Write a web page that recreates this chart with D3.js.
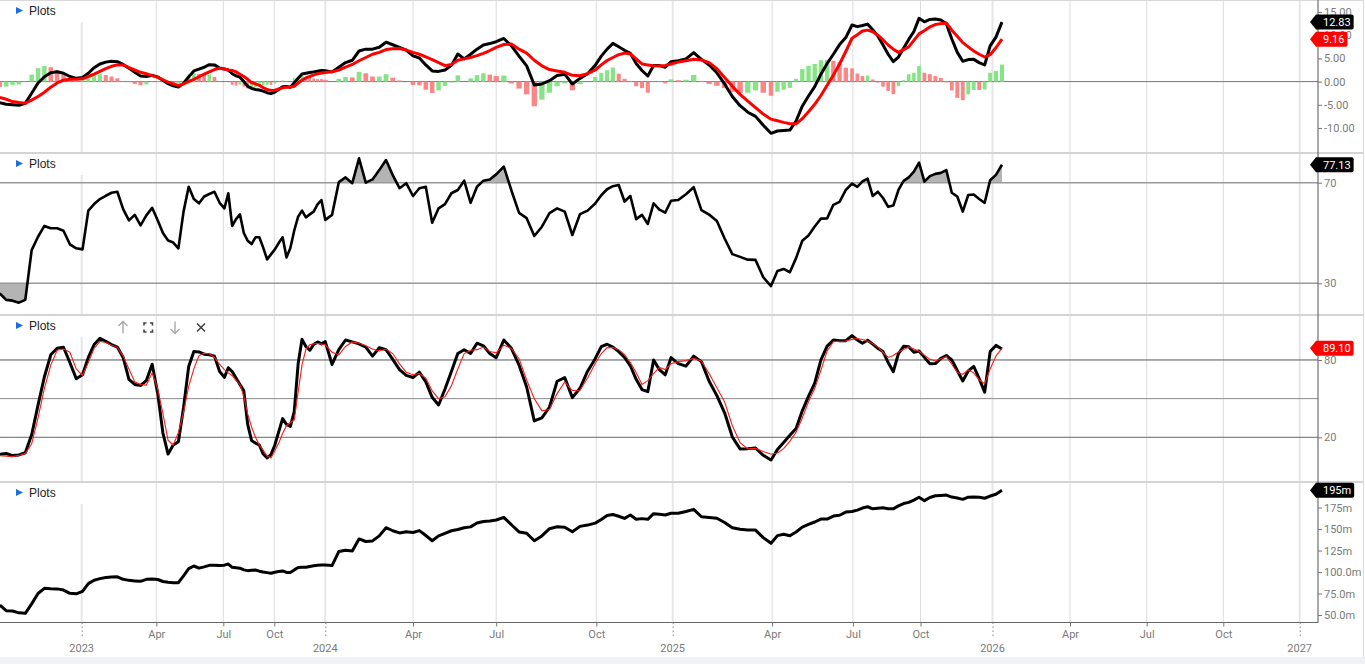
<!DOCTYPE html>
<html>
<head>
<meta charset="utf-8">
<script src="https://cdn.jsdelivr.net/npm/d3@7"></script>
<style>
  html, body { margin: 0; padding: 0; background: #fff; }
  svg { display: block; font-family: Roboto, "Liberation Sans", Arial, sans-serif; }
</style>
</head>
<body>
<svg id="chart" width="1365" height="664"></svg>
<script>
/******** DATOS (semanal, lunes, oct 2022 - ene 2026) ********/
semanas = d3.timeMonday.range(new Date(2022, 9, 3), new Date(2026, 0, 13))

macd = [-4.54,-4.88,-5.0,-5.1,-4.7,-2.5,-0.3,1.05,1.9,2.14,1.8,1.1,0.7,
  0.9,1.8,3.0,3.8,4.2,4.4,4.3,3.7,2.9,2.0,1.2,1.08,1.35,
  1.0,0.3,-0.45,-0.9,-1.15,-0.4,1.05,2.3,2.7,3.1,3.65,3.6,2.95,
  2.7,2.5,1.7,1.25,0.95,0.0,-1.0,-1.45,-1.7,-1.8,-2.05,-2.4,-2.6,
  -2.25,-1.7,-1.1,-1.05,-1.2,-0.25,0.7,1.64,1.8,1.95,2.1,2.25,2.4,
  2.35,2.1,3.1,4.1,4.6,6.6,7.0,7.0,7.4,8.5,7.95,7.4,6.8,
  5.55,5.1,3.6,2.3,2.2,2.5,3.5,5.95,4.9,5.9,7.0,7.9,8.2,
  8.6,9.3,7.7,5.5,3.4,-0.73,-0.5,0.2,1.3,1.6,-0.52,0.7,1.7,
  3.5,5.5,7.0,8.25,7.5,6.75,6.1,3.9,2.4,1.21,3.45,3.45,3.1,
  4.29,4.5,4.9,6.24,4.8,3.6,1.9,-0.5,-3.2,-5.2,-6.6,-7.5,-9.4,
  -11.15,-10.65,-10.55,-10.45,-8.5,-5.3,-3.1,-1.1,1.6,3.9,5.9,7.98,9.5,
  12.2,11.85,12.1,12.4,11.2,9.8,7.9,5.9,4.29,5.3,7.2,9.1,10.8,
  13.64,12.9,13.4,13.5,13.3,12.5,9.2,6.3,4.4,4.75,4.8,4.1,3.58,
  7.7,9.6,12.83]

senal = [-3.39,-3.8,-4.3,-4.5,-4.65,-4.0,-3.2,-2.3,-1.2,-0.3,0.3,0.49,0.49,
  0.6,1.1,1.6,2.2,2.8,3.3,3.6,3.6,3.0,2.5,2.0,1.7,1.3,
  0.9,0.4,-0.1,-0.5,-0.85,-0.5,0.0,0.5,1.05,1.6,2.1,2.6,2.85,
  2.7,2.5,2.4,2.1,1.6,1.1,0.5,-0.2,-0.5,-0.8,-1.3,-1.7,-1.9,
  -1.85,-1.6,-1.35,-1.2,-1.15,-1.0,-0.3,0.3,0.8,1.1,1.45,1.7,1.85,
  1.95,2.1,2.5,3.1,3.7,4.5,5.2,5.9,6.3,6.9,7.1,7.15,6.8,
  6.3,5.9,5.35,4.75,4.1,3.45,3.7,4.6,4.9,5.2,5.6,6.1,6.7,
  7.4,8.0,8.1,7.0,6.15,4.6,3.4,2.6,2.3,2.0,1.35,1.25,1.7,
  2.5,3.6,4.55,5.2,5.8,6.15,5.95,4.9,3.8,3.6,3.4,3.38,3.5,
  3.8,4.2,4.5,4.8,4.65,4.1,2.8,0.9,-1.0,-2.75,-4.2,-5.6,-7.0,
  -8.1,-8.45,-8.8,-9.1,-9.1,-8.0,-6.5,-4.9,-3.0,-0.8,1.4,3.8,6.5,
  9.35,10.1,10.9,11.1,10.75,10.0,9.0,7.9,7.0,6.3,6.9,7.5,8.9,
  10.3,11.0,11.8,12.3,12.5,12.65,11.1,9.8,8.4,7.5,6.6,5.9,5.3,
  5.8,7.3,9.16]

rsi = [26.0,23.4,23.1,22.3,23.4,43.2,48.5,52.8,51.9,51.9,50.9,45.5,43.9,
  43.5,58.9,61.5,63.5,64.8,66.0,66.4,59.5,55.0,57.2,53.0,57.0,60.0,
  55.0,50.0,47.0,46.2,43.9,58.5,68.4,63.5,61.8,64.5,65.5,66.4,62.0,
  59.8,65.8,52.8,55.5,57.4,50.0,46.9,45.6,48.3,48.3,44.2,39.5,41.5,
  43.5,46.0,48.3,40.3,44.0,51.0,56.5,58.9,56.2,57.4,58.5,61.4,63.1,
  55.2,57.2,70.2,72.1,69.8,79.7,70.0,71.3,75.0,79.0,73.0,67.8,69.8,
  64.7,67.8,68.4,54.1,59.8,61.5,65.8,67.1,70.8,62.0,68.4,70.8,71.3,
  73.3,76.4,66.9,58.0,55.9,48.8,52.5,57.9,59.8,58.5,49.2,57.5,58.9,
  61.7,65.0,67.4,68.6,69.1,62.5,64.7,55.5,57.2,53.6,61.8,59.3,58.1,
  62.8,63.1,65.4,68.2,59.1,57.3,54.8,47.8,41.6,40.5,39.4,39.3,32.4,
  28.9,34.9,35.7,34.4,40.0,46.9,49.0,52.6,55.7,55.8,61.2,62.4,67.1,
  69.6,68.3,70.5,71.6,64.7,66.4,63.9,60.4,60.9,67.1,70.7,72.1,74.4,
  78.0,70.4,72.6,73.5,73.9,75.0,66.0,64.5,58.5,65.1,65.3,63.5,62.0,
  71.0,73.1,77.13]

stochK = [6.8,7.4,5.8,6.3,8.0,22.0,45.0,67.0,84.0,89.1,89.9,78.0,65.5,
  68.5,82.0,92.0,96.8,94.5,92.0,90.0,82.0,65.0,61.0,60.2,64.0,76.7,
  53.7,23.3,7.0,14.0,16.6,43.0,75.0,86.5,86.2,84.5,84.0,83.0,71.0,
  66.5,74.0,71.0,66.0,61.0,56.0,30.0,17.5,15.5,14.0,7.0,4.0,6.5,
  14.0,24.4,34.5,30.0,28.5,40.0,77.0,96.0,90.5,87.5,92.0,94.0,92.5,
  94.2,76.5,88.0,95.5,94.0,92.5,90.0,83.0,89.5,88.0,80.5,72.5,68.0,
  66.4,70.5,63.0,51.0,45.1,57.5,71.0,85.0,88.0,85.0,93.0,91.0,85.0,
  81.8,95.5,89.0,76.0,59.0,32.7,35.0,43.5,63.5,66.3,50.8,58.0,71.3,
  81.0,90.4,92.2,90.0,86.5,82.0,75.5,65.0,57.0,55.4,80.0,72.5,68.5,
  81.8,77.2,75.2,83.0,78.7,63.5,52.3,39.0,20.2,11.0,11.2,11.7,6.0,
  2.4,10.5,16.0,21.5,26.8,40.5,51.8,62.0,80.0,90.8,95.5,95.0,95.0,
  98.9,95.5,93.0,95.3,92.3,89.0,86.5,78.0,70.9,85.0,90.6,90.3,86.0,
  87.0,82.0,77.0,77.2,81.3,83.5,80.0,71.8,63.7,71.5,75.0,65.5,55.0,
  86.5,91.3,88.5]

stochD = [5.8,5.4,5.0,6.0,7.3,15.0,35.0,58.0,76.0,87.5,88.5,86.0,73.0,
  68.0,78.0,89.0,94.5,93.5,91.5,89.8,83.0,73.0,63.0,61.0,60.5,70.0,
  57.4,38.3,17.6,14.0,23.5,39.4,59.6,73.1,83.4,85.3,84.8,82.0,76.5,
  72.5,70.0,68.0,64.0,61.0,52.0,38.0,28.0,20.0,14.0,10.0,5.5,4.0,
  9.5,15.5,23.0,29.0,31.5,33.5,55.0,76.0,88.5,91.8,92.5,92.8,92.3,
  91.8,86.0,84.0,90.5,94.0,93.0,91.0,88.5,87.0,88.5,85.0,77.0,70.5,
  68.5,69.5,66.0,56.0,50.0,51.5,60.0,73.0,85.0,87.5,88.0,90.0,86.5,
  85.5,91.5,89.0,81.0,64.5,50.0,40.5,41.5,53.9,63.0,56.3,56.5,66.0,
  77.2,85.0,89.6,89.6,88.0,84.2,78.0,70.3,61.0,64.0,69.5,74.2,72.5,
  77.0,78.7,79.5,81.2,79.2,69.5,58.5,47.5,29.0,15.8,11.0,11.4,9.0,
  6.9,7.8,11.2,17.0,24.0,35.0,47.5,57.8,72.0,87.0,94.2,94.5,94.7,
  96.0,96.6,95.9,94.7,92.7,90.0,86.0,82.0,83.5,86.2,88.2,90.1,88.6,
  86.7,83.8,80.5,79.2,81.0,82.6,76.7,70.2,68.9,72.3,70.0,64.4,61.6,
  73.0,83.0,89.1]

// OBV en millones
obv = [61.6,55.0,54.7,52.5,52.0,63.0,75.0,81.0,80.6,80.4,79.0,75.2,74.6,
  77.5,86.5,90.5,92.3,93.6,94.2,94.5,91.5,90.3,89.7,89.2,91.5,92.0,
  91.3,89.0,88.0,87.6,87.6,95.5,104.0,107.0,104.5,106.0,107.8,108.0,107.5,
  108.0,109.3,105.5,105.0,104.5,102.5,101.6,102.0,102.3,101.0,100.0,99.3,98.5,
  99.8,100.6,101.3,99.5,99.5,102.5,105.3,105.5,105.5,106.5,107.3,108.0,108.1,
  108.1,107.5,123.8,125.4,124.5,138.5,135.5,136.2,142.0,151.5,148.0,145.5,146.8,
  146.0,148.2,142.5,136.4,142.0,145.0,148.0,149.5,151.5,152.5,157.0,158.8,159.4,
  160.5,163.6,155.0,146.6,145.1,136.4,142.0,150.4,152.6,152.1,146.9,153.1,154.6,
  156.9,161.0,165.8,166.9,164.9,162.4,166.3,161.3,162.1,161.3,167.9,167.1,166.3,
  168.3,168.4,170.4,172.9,164.3,163.5,162.5,157.6,151.6,149.8,148.8,148.8,140.0,
  133.4,142.3,144.0,142.2,146.6,152.2,155.3,158.2,161.6,161.6,165.1,166.0,169.7,
  170.4,172.0,174.4,175.9,173.5,174.3,174.7,173.7,173.5,176.9,179.6,181.0,183.6,
  186.9,183.0,186.7,188.7,189.1,189.5,187.2,186.0,184.5,187.1,187.3,186.9,185.8,
  188.4,190.5,195.0]

// ticks de los ejes Y
ticksMacd = [-10, -5, 0, 5, 10, 15]
ticksRsi = [30, 70]
ticksStoch = [20, 80]
ticksObv = [50, 75, 100, 125, 150, 175]
etiquetasObv = ['50.0m', '75.0m', '100.0m', '125m', '150m', '175m']

/******** LAYOUT ********/
svg = d3.select('#chart')
ancho = 1365
alto = 664
ejeDer = 1318   // borde derecho del area de dibujo
ejeAbajo = 622.5

paneles = [
  { top: 0,   bottom: 153 },
  { top: 153, bottom: 315 },
  { top: 315, bottom: 482 },
  { top: 482, bottom: ejeAbajo }
]

// Escala X: la captura reparte cada trimestre con su propio ancho
trimestres = d3.timeMonth.every(3).range(new Date(2023, 0, 1), new Date(2027, 0, 2))
fechasX = [new Date(2022, 9, 1), ...trimestres, new Date(2027, 0, 23)]
pxX = [-2, 81.7, 156.3, 223.3, 274.3, 325.3, 413, 496.2, 596.3, 672.7, 772.1, 852.9, 920.5, 992.5, 1070, 1146.7, 1223.3, 1299.7, ejeDer]
x = d3.scaleTime().domain(fechasX).range(pxX)

// Escalas Y de cada panel
yMacd  = d3.scaleLinear().domain([-15.4, 17.6]).range([paneles[0].bottom, paneles[0].top])
yRsi   = d3.scaleLinear().domain([17.4, 81.8]).range([paneles[1].bottom, paneles[1].top])
yStoch = d3.scaleLinear().domain([-14.7, 114.9]).range([paneles[2].bottom, paneles[2].top])
yObv   = d3.scaleLinear().domain([41.3, 204.7]).range([paneles[3].bottom, paneles[3].top])

datos = semanas.slice(0, macd.length).map((f, i) => ({
  fecha: f, macd: macd[i], senal: senal[i], hist: macd[i] - senal[i],
  rsi: rsi[i], k: stochK[i], d: stochD[i], obv: obv[i]
}))

/******** FONDO ********/
svg.append('rect').attr('width', ancho).attr('height', alto).attr('fill', '#fff')
svg.append('rect').attr('x', 0).attr('y', 657).attr('width', ancho).attr('height', alto - 657).attr('fill', '#eff1f5')

defs = svg.append('defs')
paneles.forEach((p, i) => {
  defs.append('clipPath').attr('id', 'clip' + i)
    .append('rect').attr('x', 0).attr('y', p.top).attr('width', ejeDer).attr('height', p.bottom - p.top)
})
defs.append('clipPath').attr('id', 'clipRsiArriba')
  .append('rect').attr('x', 0).attr('y', paneles[1].top).attr('width', ejeDer).attr('height', yRsi(70) - paneles[1].top)
defs.append('clipPath').attr('id', 'clipRsiAbajo')
  .append('rect').attr('x', 0).attr('y', yRsi(30)).attr('width', ejeDer).attr('height', paneles[1].bottom - yRsi(30))

/******** GRID VERTICAL ********/
svg.append('g').selectAll('line').data(trimestres).join('line')
  .attr('x1', d => x(d)).attr('x2', d => x(d))
  .attr('y1', 0).attr('y2', ejeAbajo)
  .attr('stroke', d => d.getMonth() === 0 ? '#e6e6e6' : '#dcdcdc')
  .attr('stroke-width', d => d.getMonth() === 0 ? 2 : 1)

// separadores de paneles
svg.append('line').attr('x1', 0).attr('x2', 1363).attr('y1', 0.5).attr('y2', 0.5).attr('stroke', '#d8d8d8')
paneles.slice(1).forEach(p => {
  svg.append('line').attr('x1', 0).attr('x2', 1363).attr('y1', p.top).attr('y2', p.top)
    .attr('stroke', '#d4d4d4').attr('stroke-width', 2)
})

/******** PANEL 1: MACD ********/
g1 = svg.append('g').attr('clip-path', 'url(#clip0)')
g1.append('line').attr('x1', 0).attr('x2', ejeDer).attr('y1', yMacd(0)).attr('y2', yMacd(0))
  .attr('stroke', '#777').attr('stroke-width', 1)

g1.selectAll('rect.hist').data(datos).join('rect')
  .attr('class', 'hist')
  .attr('x', (d, i) => {
    paso = i < datos.length - 1 ? x(datos[i + 1].fecha) - x(d.fecha) : x(d.fecha) - x(datos[i - 1].fecha)
    return x(d.fecha) - paso * 0.35
  })
  .attr('width', (d, i) => {
    paso = i < datos.length - 1 ? x(datos[i + 1].fecha) - x(d.fecha) : x(d.fecha) - x(datos[i - 1].fecha)
    return paso * 0.7
  })
  .attr('y', d => Math.min(yMacd(0), yMacd(d.hist)))
  .attr('height', d => Math.abs(yMacd(d.hist) - yMacd(0)))
  .attr('fill', (d, i) => (i > 0 && d.hist >= datos[i - 1].hist) ? '#86e486' : '#fb8686')

g1.append('path').datum(datos)
  .attr('fill', 'none').attr('stroke', '#000').attr('stroke-width', 3).attr('stroke-linejoin', 'round')
  .attr('d', d3.line().x(d => x(d.fecha)).y(d => yMacd(d.macd)))
g1.append('path').datum(datos)
  .attr('fill', 'none').attr('stroke', '#ff0000').attr('stroke-width', 3).attr('stroke-linejoin', 'round')
  .attr('d', d3.line().x(d => x(d.fecha)).y(d => yMacd(d.senal)))

/******** PANEL 2: RSI ********/
g2 = svg.append('g').attr('clip-path', 'url(#clip1)')
g2.append('g').attr('clip-path', 'url(#clipRsiArriba)').append('path').datum(datos)
  .attr('fill', '#b4b4b4')
  .attr('d', d3.area().x(d => x(d.fecha)).y0(yRsi(70)).y1(d => yRsi(d.rsi)))
g2.append('g').attr('clip-path', 'url(#clipRsiAbajo)').append('path').datum(datos)
  .attr('fill', '#b4b4b4')
  .attr('d', d3.area().x(d => x(d.fecha)).y0(yRsi(30)).y1(d => yRsi(d.rsi)))
ticksRsi.forEach(v => {
  g2.append('line').attr('x1', 0).attr('x2', ejeDer).attr('y1', yRsi(v)).attr('y2', yRsi(v))
    .attr('stroke', '#999').attr('stroke-width', 1.5)
})
g2.append('path').datum(datos)
  .attr('fill', 'none').attr('stroke', '#000').attr('stroke-width', 2.6).attr('stroke-linejoin', 'round')
  .attr('d', d3.line().x(d => x(d.fecha)).y(d => yRsi(d.rsi)))

/******** PANEL 3: ESTOCASTICO ********/
g3 = svg.append('g').attr('clip-path', 'url(#clip2)')
;[[80, '#555'], [50, '#8a8a8a'], [20, '#666']].forEach(r => {
  g3.append('line').attr('x1', 0).attr('x2', ejeDer).attr('y1', yStoch(r[0])).attr('y2', yStoch(r[0]))
    .attr('stroke', r[1]).attr('stroke-width', 1)
})
g3.append('path').datum(datos)
  .attr('fill', 'none').attr('stroke', '#000').attr('stroke-width', 3).attr('stroke-linejoin', 'round')
  .attr('d', d3.line().x(d => x(d.fecha)).y(d => yStoch(d.k)))
g3.append('path').datum(datos)
  .attr('fill', 'none').attr('stroke', '#ff1a1a').attr('stroke-width', 1.1)
  .attr('d', d3.line().x(d => x(d.fecha)).y(d => yStoch(d.d)))

/******** PANEL 4: OBV ********/
g4 = svg.append('g').attr('clip-path', 'url(#clip3)')
g4.append('path').datum(datos)
  .attr('fill', 'none').attr('stroke', '#000').attr('stroke-width', 3).attr('stroke-linejoin', 'round')
  .attr('d', d3.line().x(d => x(d.fecha)).y(d => yObv(d.obv)))

/******** CABECERAS "Plots" ********/
paneles.forEach(p => {
  svg.append('rect').attr('x', 0).attr('y', p.top + 1).attr('width', 113).attr('height', 21).attr('fill', '#fff')
  svg.append('path').attr('d', `M16,${p.top + 7} L23,${p.top + 10.5} L16,${p.top + 14} Z`).attr('fill', '#1a6fe0')
  svg.append('text').attr('x', 29).attr('y', p.top + 11).attr('dy', '0.35em')
    .style('font-family', '"Liberation Sans", Arial, sans-serif').style('font-size', '12px').attr('fill', '#222').text('Plots')
})

// iconos del panel 3
ic = paneles[2].top + 12.5
iconos = svg.append('g').attr('fill', 'none').attr('stroke-width', 1.4)
iconos.append('path').attr('stroke', '#a8a8a8').attr('d', `M123,${ic + 6} V${ic - 6} M118.5,${ic - 1.5} L123,${ic - 6} L127.5,${ic - 1.5}`)
iconos.append('path').attr('stroke', '#a8a8a8').attr('d', `M175,${ic - 6} V${ic + 6} M170.5,${ic + 1.5} L175,${ic + 6} L179.5,${ic + 1.5}`)
iconos.append('path').attr('stroke', '#444').attr('stroke-width', 1.6)
  .attr('d', `M144,${ic - 2} V${ic - 4.5} H146.5 M150,${ic - 4.5} H152.5 V${ic - 2} M152.5,${ic + 2} V${ic + 4.5} H150 M146.5,${ic + 4.5} H144 V${ic + 2}`)
iconos.append('path').attr('stroke', '#444').attr('stroke-width', 1.6)
  .attr('d', `M197,${ic - 4} L205,${ic + 4} M205,${ic - 4} L197,${ic + 4}`)

/******** EJES Y (derecha) ********/
svg.append('line').attr('x1', ejeDer).attr('x2', ejeDer).attr('y1', 0).attr('y2', ejeAbajo)
  .attr('stroke', '#555').attr('stroke-width', 1)

function ejeY(escala, valores, formato) {
  g = svg.append('g').attr('transform', `translate(${ejeDer}, 0)`)
    .call(d3.axisRight(escala).tickValues(valores).tickSize(4).tickPadding(2).tickFormat(formato))
  g.select('.domain').remove()
  g.selectAll('line').attr('stroke', '#777')
  g.selectAll('text').attr('fill', '#7a7a7a').style('font-size', '11px')
    .style('font-family', 'Roboto, "Liberation Sans", Arial, sans-serif')
}
ejeY(yMacd, ticksMacd, v => d3.format('.2f')(v).replace('\u2212', '-'))
ejeY(yRsi, ticksRsi, v => v)
ejeY(yStoch, ticksStoch, v => v)
ejeY(yObv, ticksObv, (v, i) => etiquetasObv[i])

/******** EJE X ********/
svg.append('line').attr('x1', 0).attr('x2', ejeDer).attr('y1', ejeAbajo).attr('y2', ejeAbajo)
  .attr('stroke', '#666').attr('stroke-width', 1)

gx = svg.append('g').attr('transform', `translate(0, ${ejeAbajo})`)
  .call(d3.axisBottom(x).tickValues(trimestres).tickSize(4).tickPadding(4)
    .tickFormat(d => d.getMonth() === 0 ? '' : d3.timeFormat('%b')(d)))
gx.select('.domain').remove()
gx.selectAll('.tick line')
  .attr('stroke', d => d.getMonth() === 0 ? '#888' : '#777')
  .attr('y2', d => d.getMonth() === 0 ? 16 : 4)
  .attr('stroke-dasharray', d => d.getMonth() === 0 ? '1.5,2.5' : null)
gx.selectAll('.tick text').attr('fill', '#7a7a7a').style('font-size', '11px')
  .style('font-family', 'Roboto, "Liberation Sans", Arial, sans-serif')

svg.append('g').selectAll('text').data(trimestres.filter(d => d.getMonth() === 0)).join('text')
  .attr('x', d => x(d)).attr('y', 648).attr('dy', '0.35em').attr('text-anchor', 'middle')
  .attr('fill', '#7a7a7a').style('font-size', '11px')
  .text(d => d.getFullYear())

/******** ETIQUETAS DE VALOR ********/
function etiqueta(cy, texto, color) {
  gt = svg.append('g')
  t = gt.append('text').attr('x', 1323).attr('y', cy).attr('dy', '0.35em')
    .attr('fill', '#fff').style('font-size', '11px').text(texto)
  w = t.node().getComputedTextLength()
  x2 = 1323 + w + 3
  gt.insert('path', 'text')
    .attr('d', `M1310,${cy} L1316,${cy - 7.5} L${x2 - 2},${cy - 7.5} Q${x2},${cy - 7.5} ${x2},${cy - 5.5} L${x2},${cy + 5.5} Q${x2},${cy + 7.5} ${x2 - 2},${cy + 7.5} L1316,${cy + 7.5} Z`)
    .attr('fill', color)
}
ultimo = datos[datos.length - 1]
etiqueta(yMacd(ultimo.macd), d3.format('.2f')(ultimo.macd), '#000')
etiqueta(yMacd(ultimo.senal), d3.format('.2f')(ultimo.senal), '#ff0000')
etiqueta(yRsi(ultimo.rsi), d3.format('.2f')(ultimo.rsi), '#000')
etiqueta(yStoch(ultimo.d), d3.format('.2f')(ultimo.d), '#ff0000')
etiqueta(yObv(ultimo.obv), d3.format('.0f')(ultimo.obv) + 'm', '#000')

// borde derecho
svg.append('line').attr('x1', 1363.5).attr('x2', 1363.5).attr('y1', 0).attr('y2', 657).attr('stroke', '#dcdcdc')
</script>
</body>
</html>
